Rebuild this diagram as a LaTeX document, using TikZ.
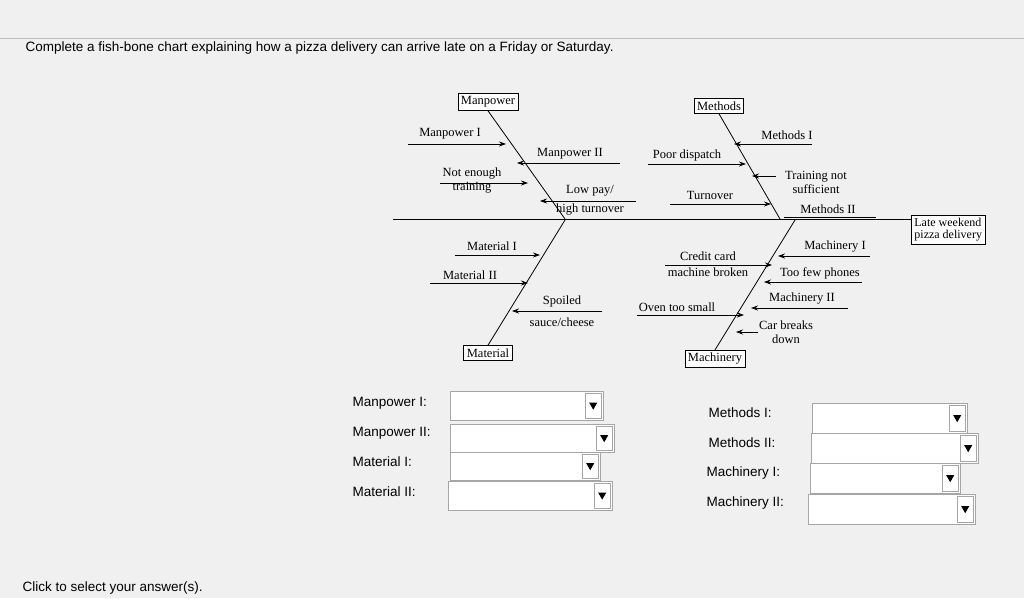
\documentclass[tikz,border=0pt]{standalone}
\usepackage{fontspec}
\setmainfont{Liberation Serif}
\setsansfont{Liberation Sans}
\usetikzlibrary{arrows.meta}
\begin{document}
\begin{tikzpicture}[x=1pt,y=-1pt,
  lab/.style={font=\fontsize{12.5}{14}\selectfont, inner sep=1pt, align=center},
  bx/.style={draw, thick, font=\fontsize{12.5}{13}\selectfont, inner sep=3pt, fill=white},
  cz/.style={-{Stealth[length=7pt,width=5pt]}, thick},
  bone/.style={thick},
  frm/.style={font=\sffamily\fontsize{13.5}{14}\selectfont, anchor=west},
  dd/.style={draw=gray!70, fill=white}]
\fill[gray!12] (0,0) rectangle (1024,598);
\useasboundingbox (0,0) rectangle (1024,598);
\draw[gray!50] (0,38) -- (1024,38);
\node[font=\sffamily\fontsize{13.5}{14}\selectfont, anchor=west] (title) at (22,48) {Complete a fish-bone chart explaining how a pizza delivery can arrive late on a Friday or Saturday.};
% spine and effect
\node[bx, anchor=north west, align=left, font=\fontsize{12}{12}\selectfont] (eff) at (911,215) {Late weekend\\pizza delivery};
\coordinate (sp) at (393,219);
\draw[bone] (sp) -- (sp -| eff.west);
% category boxes
\node[bx] (man) at (488,102) {Manpower};
\node[bx] (met) at (719,106) {Methods};
\node[bx] (mat) at (488,353) {Material};
\node[bx] (mac) at (715,359) {Machinery};
\coordinate (m1) at (565,219); \coordinate (m2) at (780,219);
\coordinate (m3) at (565,220); \coordinate (m4) at (795,220);
\draw[bone] (man.south) -- (m1);
\draw[bone] (met.south) -- (m2);
\draw[bone] (mat.north) -- (m3);
\draw[bone] (mac.north) -- (m4);
% causes
\newcommand{\cause}[6]{%
  \node[lab] (#1) at (#3) {#2};
  \coordinate (#1a) at (#4); \coordinate (#1b) at (#5);
  \draw[#6] (#1a) -- (#1b);}
\cause{c1}{Manpower I}{450,134}{408,144}{506,144}{cz}
\cause{c2}{Manpower II}{570,154}{620,163}{517,163}{cz}
\cause{c3}{Not enough\\training}{472,181}{440,183}{528,183}{cz}
\node[lab] (c4t) at (590,191) {Low pay/};
\cause{c4}{high turnover}{590,210}{636,201}{540,201}{cz}
\cause{c5}{Poor dispatch}{687,155}{648,164}{746,164}{cz}
\cause{c6}{Methods I}{787,135}{812,144}{734,144}{cz}
\cause{c7}{Training not\\sufficient}{816,182}{776,176}{752,176}{cz}
\cause{c8}{Turnover}{710,195}{670,204}{771,204}{cz}
\cause{c9}{Methods II}{828,209}{876,217}{784,217}{thick}
\cause{c10}{Material I}{492,246}{455,255}{540,255}{cz}
\cause{c11}{Material II}{470,275}{430,283}{528,283}{cz}
\node[lab] (c12t) at (562,301) {Spoiled};
\cause{c12}{sauce/cheese}{562,322}{602,311}{512,311}{cz}
\node[lab] (c13t) at (708,256) {Credit card};
\cause{c13}{machine broken}{708,272}{665,265}{772,265}{cz}
\cause{c14}{Machinery I}{835,247}{870,256}{778,256}{cz}
\cause{c15}{Too few phones}{820,273}{862,282}{764,282}{cz}
\cause{c16}{Machinery II}{802,299}{848,308}{751,308}{cz}
\cause{c17}{Oven too small}{677,307}{637,315}{744,315}{cz}
\cause{c18}{Car breaks\\down}{786,332}{758,332}{736,332}{cz}
% form
\newcommand{\drop}[5]{%
  \node[dd, minimum width=#4-#2, minimum height=#5-#3, anchor=north west, inner sep=0pt] (#1) at (#2,#3) {};
  \node[draw=gray!70, fill=white, minimum width=16, minimum height=#5-#3-4, inner sep=0pt, anchor=east] (#1b) at ([xshift=-2]#1.east) {};
  \fill (#1b.center) ++(-4,-3) -- ++(8,0) -- ++(-4,7) -- cycle;}
\node[frm] (l1) at (349,403) {Manpower I:};
\node[frm] (l2) at (349,433) {Manpower II:};
\node[frm] (l3) at (349,462) {Material I:};
\node[frm] (l4) at (349,492) {Material II:};
\node[frm] (l5) at (705,413) {Methods I:};
\node[frm] (l6) at (705,443) {Methods II:};
\node[frm] (l7) at (703,473) {Machinery I:};
\node[frm] (l8) at (703,503) {Machinery II:};
\drop{d1}{450}{391}{603}{420}
\drop{d2}{450}{424}{614}{452}
\drop{d3}{450}{452}{600}{480}
\drop{d4}{448}{481}{612}{510}
\drop{d5}{812}{403}{967}{433}
\drop{d6}{811}{433}{978}{463}
\drop{d7}{810}{463}{960}{493}
\drop{d8}{808}{494}{975}{524}
\node[frm] (click) at (19,588) {Click to select your answer(s).};
\end{tikzpicture}
\end{document}
